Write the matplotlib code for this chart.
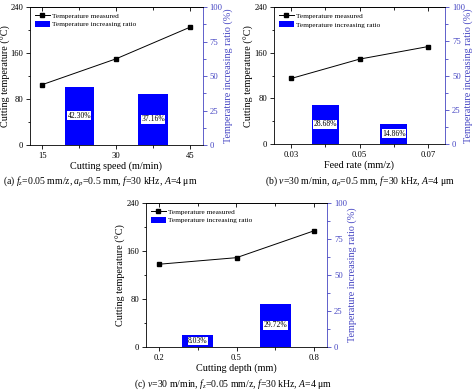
import matplotlib
matplotlib.use("Agg")
import matplotlib.pyplot as plt
from matplotlib.ticker import MultipleLocator, FixedLocator
from matplotlib.lines import Line2D
from matplotlib.patches import Patch

plt.rcParams['font.family'] = ['Liberation Serif', 'DejaVu Serif']
plt.rcParams['mathtext.fontset'] = 'custom'
plt.rcParams['mathtext.rm'] = 'Liberation Serif'
plt.rcParams['mathtext.it'] = 'Liberation Serif:italic'

# Data
speed = [15, 30, 45]
speed_temp = [105, 150, 205]
speed_ratio = [42.30, 37.16]

feed = [0.03, 0.05, 0.07]
feed_temp = [115, 149, 171]
feed_ratio = [28.68, 14.86]

depth = [0.2, 0.5, 0.8]
depth_temp = [138, 149, 194]
depth_ratio = [8.03, 29.72]

xlabels = ['Cutting speed (m/min)', 'Feed rate (mm/z)', 'Cutting depth (mm)']
ticklabels = [['15', '30', '45'], ['0.03', '0.05', '0.07'], ['0.2', '0.5', '0.8']]
captions = [r'(a) $f_z$=0.05 mm/z, $a_p$=0.5 mm, $f$=30 kHz, $A$=4 μm',
            r'(b) $v$=30 m/min, $a_p$=0.5 mm, $f$=30 kHz, $A$=4 μm',
            r'(c) $v$=30 m/min, $f_z$=0.05 mm/z, $f$=30 kHz, $A$=4 μm']

W, H = 474, 392
fig = plt.figure(figsize=(W / 100, H / 100), dpi=100)

# axes boxes in pixels: left, right, top, bottom
boxes = [(30, 202.5, 7, 145), (274, 445, 7.3, 144), (146, 327, 203.3, 346.7)]
xlims = [(12.5, 47.5), (0.025, 0.075), (0.15, 0.85)]
datasets = [(speed, speed_temp, speed_ratio), (feed, feed_temp, feed_ratio), (depth, depth_temp, depth_ratio)]
cap_pos = [(100, 181), (360, 181), (233, 384)]
ylab_left_px = [6, 249, 121]
ylab_right_px = [228, 468, 352]

RC = '#4646c3'
fs = 6.2
lfs = 7.3

for i in range(3):
    l, r, t, b = boxes[i]
    ax = fig.add_axes([l / W, 1 - b / H, (r - l) / W, (b - t) / H])
    xs, temps, ratios = datasets[i]
    ax2 = ax.twinx()
    ax.set_zorder(ax2.get_zorder() + 1)
    ax.patch.set_visible(False)

    step = xs[1] - xs[0]
    mids = [(xs[j] + xs[j + 1]) / 2 for j in range(len(xs) - 1)]
    ax2.bar(mids, ratios, width=0.4 * step, color='#0000ff', zorder=2)
    for m, v in zip(mids, ratios):
        ax2.text(m, v / 2, f'{v:.2f}%', ha='center', va='center', fontsize=5.5,
                 color='black', bbox=dict(facecolor='white', edgecolor='none', pad=0.3))
    ax2.set_ylim(0, 100)
    ax2.yaxis.set_major_locator(MultipleLocator(25))
    ax2.yaxis.set_minor_locator(MultipleLocator(12.5))
    ax2.tick_params(axis='y', which='both', colors=RC, labelsize=fs, direction='out', pad=2)
    ax2.tick_params(axis='y', which='major', length=3, width=0.6)
    ax2.tick_params(axis='y', which='minor', length=1.8, width=0.6)
    ax2.spines['right'].set_color(RC)
    ax2.set_ylabel('Temperature increasing ratio (%)', color=RC, fontsize=lfs, va='center')
    ax2.yaxis.set_label_coords((ylab_right_px[i] - l) / (r - l), 0.5)

    ax.plot(xs, temps, color='black', lw=0.7, marker='s', ms=3.5, zorder=5)
    ax.set_ylim(0, 240)
    ax.set_xlim(*xlims[i])
    ax.yaxis.set_major_locator(MultipleLocator(80))
    ax.yaxis.set_minor_locator(MultipleLocator(40))
    ax.xaxis.set_major_locator(FixedLocator(xs))
    ax.xaxis.set_minor_locator(FixedLocator(mids))
    ax.set_xticklabels(ticklabels[i])
    ax.tick_params(axis='both', which='both', labelsize=fs, direction='out', width=0.6, pad=2)
    ax.tick_params(which='major', length=3)
    ax.tick_params(which='minor', length=1.8)
    ax.set_ylabel('Cutting temperature (°C)', fontsize=lfs, va='center')
    ax.yaxis.set_label_coords((ylab_left_px[i] - l) / (r - l), 0.5)
    ax.set_xlabel(xlabels[i], fontsize=lfs, labelpad=1)
    for sp in ['left', 'bottom', 'top']:
        ax.spines[sp].set_linewidth(0.6)
    ax2.spines['right'].set_linewidth(0.6)
    for sp in ['left', 'bottom', 'top']:
        ax2.spines[sp].set_visible(False)
    ax.spines['right'].set_visible(False)

    # inward ticks on top spine
    sec = ax.secondary_xaxis('top')
    sec.xaxis.set_major_locator(FixedLocator(xs))
    sec.xaxis.set_minor_locator(FixedLocator(mids))
    sec.tick_params(axis='x', which='both', direction='in', labeltop=False, width=0.6)
    sec.tick_params(which='major', length=3)
    sec.tick_params(which='minor', length=1.8)
    sec.spines['top'].set_linewidth(0.6)
    ax.tick_params(axis='x', which='both', top=False)

    handles = [Line2D([0], [0], color='black', lw=0.7, marker='s', ms=3.5),
               Patch(facecolor='#0000ff', edgecolor='none')]
    ax.legend(handles, ['Temperature measured', 'Temperature increasing ratio'],
              loc='upper left', frameon=False, fontsize=5.2, handlelength=2.0,
              handleheight=0.9, labelspacing=0.3, borderaxespad=0.3, handletextpad=0.4)

    cx, cy = cap_pos[i]
    fig.text(cx / W, 1 - cy / H, captions[i], ha='center', va='center', fontsize=7)

fig.savefig('out.png', dpi=100)
